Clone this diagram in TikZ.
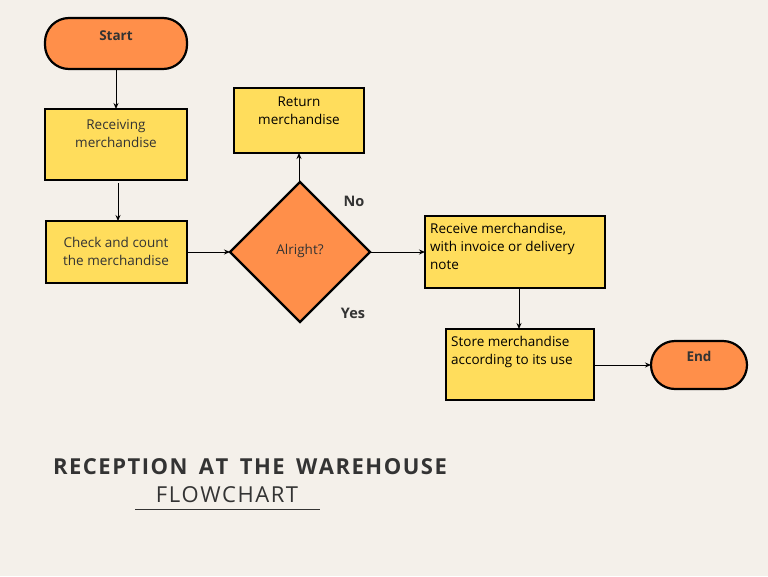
\documentclass[tikz,border=0pt]{standalone}
\usepackage{fontspec}
\setmainfont{Open Sans}
\usetikzlibrary{shapes.geometric,arrows.meta}
\definecolor{bg}{HTML}{F4F0EA}
\definecolor{yel}{HTML}{FFDD5C}
\definecolor{org}{HTML}{FF8F4A}
\definecolor{txt}{HTML}{333333}
\begin{document}
\begin{tikzpicture}[x=1pt,y=-1pt,
  box/.style={draw=black,line width=2.2pt,fill=yel},
  term/.style={draw=black,line width=2.2pt,fill=org,rounded corners=24pt},
  lbl/.style={text=txt,font=\fontsize{13.5}{18}\selectfont,align=center},
  bl/.style={text=txt,font=\bfseries\fontsize{13.5}{18}\selectfont},
  arr/.style={-{Stealth[length=6pt,width=5pt]},line width=1pt}]
\fill[bg] (0,0) rectangle (768,576);
\useasboundingbox (0,0) rectangle (768,576);
\draw[term] (45,18) rectangle (187,69);
\node[bl] (start) at (116,36) {Start};
\coordinate (sb) at (116,69);
\draw[box] (45,109) rectangle (187,180);
\node[lbl] (recv) at (116,134) {Receiving\\merchandise};
\coordinate (rt) at (116,109); \coordinate (rb) at (118,183);
\draw[box] (46,221) rectangle (187,283);
\node[lbl] (chk) at (116,251) {Check and count\\the merchandise};
\coordinate (ct) at (118,221); \coordinate (cr) at (187,252);
\draw[draw=black,line width=2.2pt,fill=org] (230,252) -- (300,182) -- (370,252) -- (300,322) -- cycle;
\node[lbl] (ok) at (300,251) {Alright?};
\coordinate (dl) at (230,252); \coordinate (dt) at (299,182); \coordinate (dr) at (370,252);
\draw[box] (234,88) rectangle (364,153);
\node[lbl,text=black] (ret) at (299,111) {Return\\merchandise};
\coordinate (retb) at (299,153);
\node[bl,font=\bfseries\fontsize{14.5}{18}\selectfont] (no) at (354,201) {No};
\node[bl,font=\bfseries\fontsize{14.5}{18}\selectfont] (yes) at (353,313) {Yes};
\draw[box] (425,216) rectangle (605,288);
\node[lbl,text=black,align=left,anchor=north west,inner sep=0pt] (rec) at (430,223) {Receive merchandise,\\with invoice or delivery\\note};
\coordinate (recl) at (425,252); \coordinate (recb) at (519,288);
\draw[box] (446,329) rectangle (594,400);
\node[lbl,text=black,align=left,anchor=north west,inner sep=0pt] (sto) at (451,336) {Store merchandise\\according to its use};
\coordinate (stt) at (519,329); \coordinate (str) at (594,365);
\draw[term] (651,341) rectangle (747,389);
\node[bl] (end) at (699,356) {End};
\coordinate (endl) at (651,365);
\draw[arr] (sb) -- (rt);
\draw[arr] (rb) -- (ct);
\draw[arr] (cr) -- (dl);
\draw[arr] (dt) -- (retb);
\draw[arr] (dr) -- (recl);
\draw[arr] (recb) -- (stt);
\draw[arr] (str) -- (endl);
\node[text=txt,font=\bfseries\fontsize{22}{26}\selectfont] (t1) at (250,467) {R\kern1.5pt E\kern1.5pt C\kern1.5pt E\kern1.5pt P\kern1.5pt T\kern1.5pt I\kern1.5pt O\kern1.5pt N\ \ A\kern1.5pt T\ \ T\kern1.5pt H\kern1.5pt E\ \ W\kern1.5pt A\kern1.5pt R\kern1.5pt E\kern1.5pt H\kern1.5pt O\kern1.5pt U\kern1.5pt S\kern1.5pt E};
\node[text=txt,font=\fontsize{22}{26}\selectfont] (t2) at (227,495) {F\kern1.5pt L\kern1.5pt O\kern1.5pt W\kern1.5pt C\kern1.5pt H\kern1.5pt A\kern1.5pt R\kern1.5pt T};
\draw[line width=0.8pt,txt] (135,509) -- (320,509);
\end{tikzpicture}
\end{document}
